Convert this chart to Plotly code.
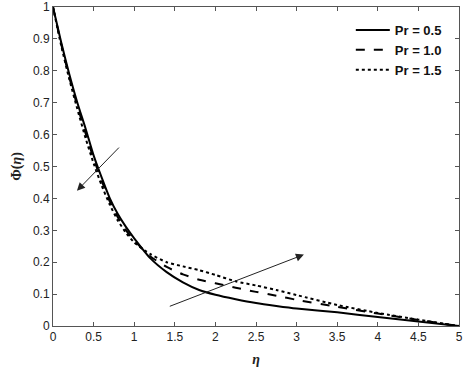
import plotly.graph_objects as go

eta = [0, 0.1, 0.2, 0.3, 0.4, 0.5, 0.6, 0.7, 0.8, 0.9, 1.0, 1.2, 1.4, 1.6, 1.8,
       2.0, 2.25, 2.5, 2.75, 3.0, 3.5, 4.0, 4.5, 5.0]
phi_pr05 = [1.0, 0.89, 0.79, 0.70, 0.62, 0.535, 0.465, 0.40, 0.35, 0.31, 0.275,
            0.212, 0.169, 0.137, 0.113, 0.098, 0.084, 0.072, 0.063, 0.055, 0.043,
            0.028, 0.014, 0.0]
phi_pr10 = [1.0, 0.885, 0.78, 0.69, 0.605, 0.525, 0.455, 0.39, 0.34, 0.30, 0.268,
            0.218, 0.185, 0.162, 0.145, 0.134, 0.120, 0.107, 0.095, 0.082, 0.060,
            0.039, 0.019, 0.0]
phi_pr15 = [1.0, 0.88, 0.775, 0.68, 0.59, 0.51, 0.44, 0.38, 0.33, 0.292, 0.262,
            0.225, 0.200, 0.187, 0.175, 0.160, 0.140, 0.127, 0.113, 0.097, 0.066,
            0.041, 0.020, 0.0]
names = ["Pr = 0.5", "Pr = 1.0", "Pr = 1.5"]
dashes = ["solid", "dash", "dot"]
xticks = [0, 0.5, 1, 1.5, 2, 2.5, 3, 3.5, 4, 4.5, 5]
xticklabels = ["0", "0.5", "1", "1.5", "2", "2.5", "3", "3.5", "4", "4.5", "5"]
yticks = [0, 0.1, 0.2, 0.3, 0.4, 0.5, 0.6, 0.7, 0.8, 0.9, 1]
yticklabels = ["0", "0.1", "0.2", "0.3", "0.4", "0.5", "0.6", "0.7", "0.8", "0.9", "1"]

fig = go.Figure()
for ys, nm, ds in zip([phi_pr05, phi_pr10, phi_pr15], names, dashes):
    fig.add_trace(go.Scatter(x=eta, y=ys, mode="lines", name="<b>" + nm + "</b>",
                             line=dict(color="black", width=2, dash=ds, shape="spline", smoothing=0.6)))

axis_common = dict(showgrid=False, zeroline=False, showline=True, linecolor="#555",
                   linewidth=1, mirror="ticks", ticks="inside", ticklen=4, automargin=False,
                   ticklabeloverflow="allow",
                   tickcolor="#555", tickfont=dict(family="Liberation Sans, Arial", size=12, color="#222"))
fig.update_xaxes(range=[0, 5], tickvals=xticks, ticktext=xticklabels,
                 title=dict(text="<b><i>η</i></b>", font=dict(family="Liberation Serif, Times New Roman", size=14, color="#222"), standoff=10),
                 **axis_common)
fig.update_yaxes(range=[0, 1], tickvals=yticks, ticktext=yticklabels,
                 title=dict(text="<b>Φ(<i>η</i>)</b>", font=dict(family="Liberation Serif, Times New Roman", size=14, color="#222"), standoff=8),
                 **axis_common)

fig.add_annotation(x=0.295, y=0.424, ax=0.83, ay=0.564, xref="x", yref="y", axref="x", ayref="y",
                   showarrow=True, arrowhead=2, arrowsize=1.6, arrowwidth=1, arrowcolor="#222", text="")
fig.add_annotation(x=3.09, y=0.224, ax=1.42, ay=0.060, xref="x", yref="y", axref="x", ayref="y",
                   showarrow=True, arrowhead=2, arrowsize=1.6, arrowwidth=1, arrowcolor="#222", text="")

fig.update_layout(width=474, height=374, margin=dict(l=53, r=15, t=7, b=48, autoexpand=False),
                  plot_bgcolor="white", paper_bgcolor="white",
                  legend=dict(x=0.97, y=0.975, xanchor="right", yanchor="top", bgcolor="rgba(0,0,0,0)",
                              font=dict(family="Liberation Sans, Arial", size=13, color="#111"),
                              itemwidth=34, tracegroupgap=0),
                  showlegend=True)

fig.write_html("out.html", config={"displayModeBar": False},
               post_script="document.body.style.margin='0';document.body.style.overflow='hidden';")
